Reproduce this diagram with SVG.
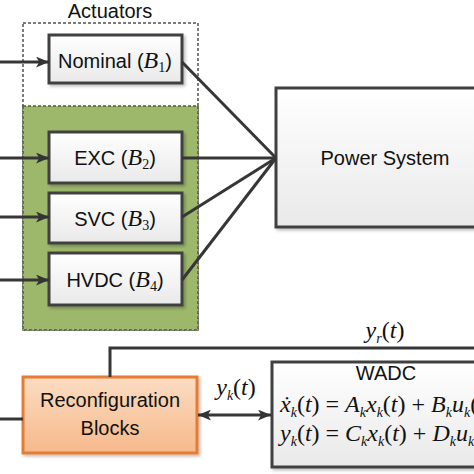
<svg xmlns="http://www.w3.org/2000/svg" width="474" height="474" viewBox="0 0 474 474">
<defs>
<linearGradient id="gw" x1="0" y1="0" x2="0" y2="1"><stop offset="0" stop-color="#ffffff"/><stop offset="1" stop-color="#e9e9e9"/></linearGradient>
<linearGradient id="go" x1="0" y1="0" x2="0" y2="1"><stop offset="0" stop-color="#fbdcc2"/><stop offset="1" stop-color="#f6b98a"/></linearGradient>
<filter id="sh" x="-10%" y="-10%" width="130%" height="130%"><feDropShadow dx="2" dy="2" stdDeviation="1.5" flood-color="#000" flood-opacity="0.25"/></filter>
<marker id="ah" viewBox="0 0 12 10" refX="12" refY="5" markerWidth="13" markerHeight="11" markerUnits="userSpaceOnUse" orient="auto-start-reverse"><path d="M0,0 L12,5 L0,10 L3,5 Z" fill="#333"/></marker>
</defs>
<style>
.box{fill:url(#gw);stroke:#404040;stroke-width:3;filter:url(#sh)}
.ln{fill:none;stroke:#363636;stroke-width:3}
.dash{fill:none;stroke:#505050;stroke-width:1.5;stroke-dasharray:3 2}
.t{font-family:"Liberation Sans",Arial,sans-serif;font-size:20px;fill:#111}
.m{font-family:"Liberation Serif","Times New Roman",serif;font-size:24px;fill:#111}
.i{font-style:italic}
.s{font-size:14px}
</style>
<rect width="474" height="474" fill="#fff"/>
<g id="actuators">
<text class="t" x="110" y="18" text-anchor="middle" font-size="21">Actuators</text>
<rect x="23" y="23" width="175" height="307" class="dash"/>
<rect x="23" y="106" width="175" height="224" fill="#9db86b" stroke="#4f5a3a" stroke-width="1.5" stroke-dasharray="3 2"/>
</g>
<g id="nominal">
<rect x="49" y="35" width="133" height="48" class="box"/>
<text class="t" x="115" y="68" text-anchor="middle">Nominal (<tspan class="m i">B</tspan><tspan class="m s" dy="4">1</tspan><tspan dy="-4">)</tspan></text>
</g>
<g id="exc">
<rect x="49" y="132" width="133" height="51" class="box"/>
<text class="t" x="115" y="165" text-anchor="middle">EXC (<tspan class="m i">B</tspan><tspan class="m s" dy="4">2</tspan><tspan dy="-4">)</tspan></text>
</g>
<g id="svc">
<rect x="49" y="193" width="133" height="50" class="box"/>
<text class="t" x="115" y="226" text-anchor="middle">SVC (<tspan class="m i">B</tspan><tspan class="m s" dy="4">3</tspan><tspan dy="-4">)</tspan></text>
</g>
<g id="hvdc">
<rect x="49" y="253" width="133" height="52" class="box"/>
<text class="t" x="115" y="287" text-anchor="middle">HVDC (<tspan class="m i">B</tspan><tspan class="m s" dy="4">4</tspan><tspan dy="-4">)</tspan></text>
</g>
<g id="power">
<rect x="276" y="88" width="220" height="139" class="box"/>
<text class="t" x="385" y="165" text-anchor="middle" font-size="21">Power System</text>
</g>
<g id="reconfig">
<rect x="23" y="377" width="174" height="76" fill="url(#go)" stroke="#e57c32" stroke-width="3" filter="url(#sh)"/>
<text class="t" x="110" y="407" text-anchor="middle" font-size="21">Reconfiguration</text>
<text class="t" x="110" y="435" text-anchor="middle" font-size="21">Blocks</text>
</g>
<g id="wadc">
<rect x="272" y="362" width="220" height="105" class="box"/>
<text class="t" x="386" y="380" text-anchor="middle">WADC</text>
<text class="m" x="280" y="412"><tspan class="i">ẋ</tspan><tspan class="i s" dy="5">k</tspan><tspan dy="-5">(</tspan><tspan class="i">t</tspan>) = <tspan class="i">A</tspan><tspan class="i s" dy="5">k</tspan><tspan class="i" dy="-5">x</tspan><tspan class="i s" dy="5">k</tspan><tspan dy="-5">(</tspan><tspan class="i">t</tspan>) + <tspan class="i">B</tspan><tspan class="i s" dy="5">k</tspan><tspan class="i" dy="-5">u</tspan><tspan class="i s" dy="5">k</tspan><tspan dy="-5">(</tspan><tspan class="i">t</tspan>)</text>
<text class="m" x="280" y="441"><tspan class="i">y</tspan><tspan class="i s" dy="5">k</tspan><tspan dy="-5">(</tspan><tspan class="i">t</tspan>) = <tspan class="i">C</tspan><tspan class="i s" dy="5">k</tspan><tspan class="i" dy="-5">x</tspan><tspan class="i s" dy="5">k</tspan><tspan dy="-5">(</tspan><tspan class="i">t</tspan>) + <tspan class="i">D</tspan><tspan class="i s" dy="5">k</tspan><tspan class="i" dy="-5">u</tspan><tspan class="i s" dy="5">k</tspan><tspan dy="-5">(</tspan><tspan class="i">t</tspan>)</text>
</g>
<g id="connectors">
<line x1="0" y1="62" x2="49" y2="62" class="ln" marker-end="url(#ah)"/>
<line x1="0" y1="158" x2="49" y2="158" class="ln" marker-end="url(#ah)"/>
<line x1="0" y1="217" x2="49" y2="217" class="ln" marker-end="url(#ah)"/>
<line x1="0" y1="280" x2="49" y2="280" class="ln" marker-end="url(#ah)"/>
<line x1="182" y1="62" x2="276" y2="158" class="ln"/>
<line x1="182" y1="158" x2="276" y2="158" class="ln"/>
<line x1="182" y1="217" x2="276" y2="158" class="ln"/>
<line x1="182" y1="280" x2="276" y2="158" class="ln"/>
<line x1="0" y1="419" x2="23" y2="419" class="ln"/>
<polyline points="110,377 110,348 474,348" class="ln"/>
<line x1="198" y1="415" x2="271" y2="415" class="ln" marker-start="url(#ah)" marker-end="url(#ah)"/>
<text class="m" x="385" y="338" text-anchor="middle"><tspan class="i">y</tspan><tspan class="i s" dy="5">r</tspan><tspan dy="-5">(</tspan><tspan class="i">t</tspan>)</text>
<text class="m" x="236" y="395" text-anchor="middle"><tspan class="i">y</tspan><tspan class="i s" dy="5">k</tspan><tspan dy="-5">(</tspan><tspan class="i">t</tspan>)</text>
</g>
</svg>
